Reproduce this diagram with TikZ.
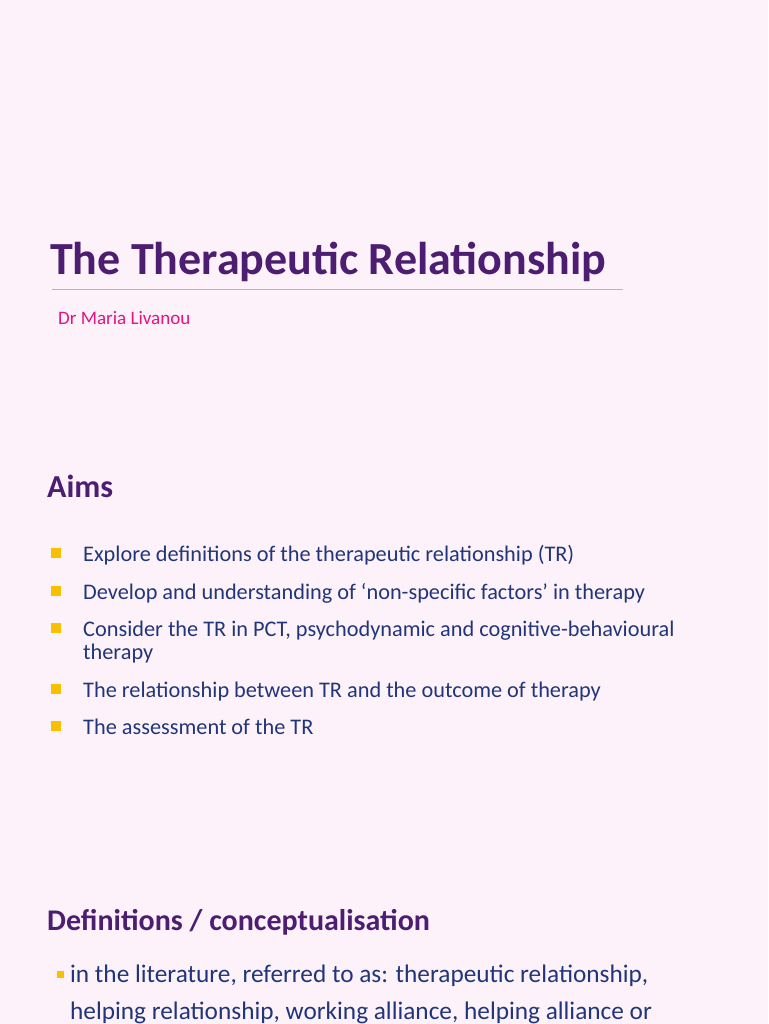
\documentclass[tikz,border=0pt]{standalone}
\usepackage{fontspec}
\setmainfont{Carlito}
\definecolor{slidebg}{HTML}{FDF2FA}
\definecolor{titlepurple}{HTML}{4D1D72}
\definecolor{rulegold}{HTML}{F5B800}
\definecolor{authorpink}{HTML}{E5147E}
\definecolor{bodyblue}{HTML}{21367A}
\definecolor{bulletgold}{HTML}{F7C100}
\tikzset{
  heading/.style={anchor=base west, inner sep=0pt, text=titlepurple, font=\bfseries\fontsize{32}{36}\selectfont},
  item/.style={anchor=base west, inner sep=0pt, text=bodyblue, font=\fontsize{22.3}{26}\selectfont},
  bigitem/.style={anchor=base west, inner sep=0pt, text=bodyblue, font=\fontsize{25.3}{30}\selectfont},
  square/.style={fill=bulletgold, minimum size=10pt, inner sep=0pt}
}
\begin{document}
\begin{tikzpicture}[x=1pt, y=-1pt]
  \fill[slidebg] (0,0) rectangle (768,1024);
  \useasboundingbox (0,0) rectangle (768,1024);

  % title slide
  \node[heading, font=\bfseries\fontsize{46}{52}\selectfont] (title) at (50,274) {The Therapeutic Relationship};
  \draw[rulegold, line width=1pt] (52,289) -- (623,289);
  \node[anchor=base west, inner sep=0pt, text=authorpink, font=\fontsize{19}{22}\selectfont] (author) at (58,324) {Dr Maria Livanou};

  % aims
  \node[heading] (aims) at (47,497) {Aims};
  \foreach \name/\yy/\txt in {a/561/{Explore definitions of the therapeutic relationship (TR)},
      b/599/{Develop and understanding of ‘non-specific factors’ in therapy},
      c/636/{Consider the TR in PCT, psychodynamic and cognitive-behavioural},
      d/697/{The relationship between TR and the outcome of therapy},
      e/734/{The assessment of the TR}} {
    \node[square] (sq\name) at (56,\yy-8) {};
    \node[item] (t\name) at (83,\yy) {\txt};
  }
  \node[item] (tc2) at (83,659) {therapy};

  % definitions
  \node[heading, font=\bfseries\fontsize{30}{34}\selectfont] (defs) at (47,930) {Definitions / conceptualisation};
  \node[square, minimum size=7pt] (sqf) at (60,974) {};
  \node[bigitem] (tf) at (70,982) {in the literature, referred to as: therapeutic relationship,};
  \node[bigitem] (tf2) at (70,1019) {helping relationship, working alliance, helping alliance or};
\end{tikzpicture}
\end{document}
